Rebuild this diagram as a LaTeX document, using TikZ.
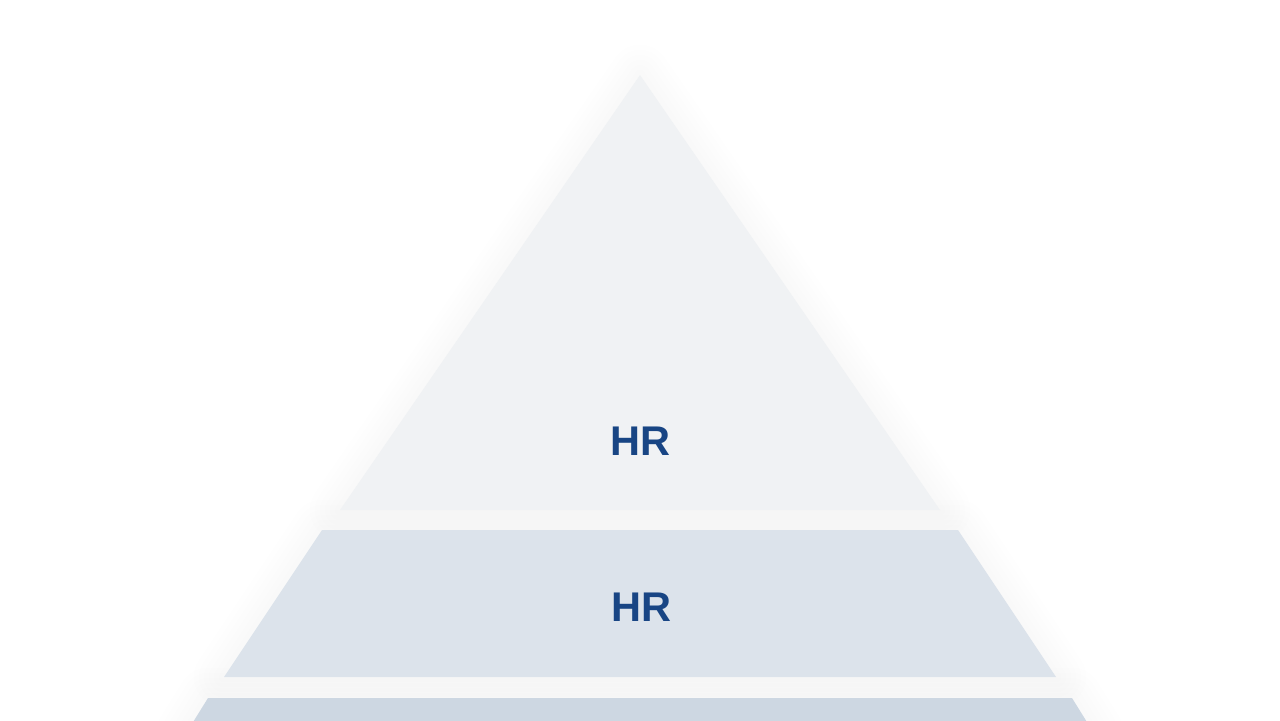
\documentclass[tikz,border=0pt]{standalone}
\usepackage{fontspec}
\setmainfont{Liberation Sans}
\newcommand{\pxsize}{0.01cm}
\definecolor{tierA}{HTML}{F0F2F4}
\definecolor{tierB}{HTML}{DCE3EB}
\definecolor{tierC}{HTML}{CDD7E2}
\definecolor{tierText}{HTML}{184584}
\tikzset{
  halo/.style={draw=black!40, draw opacity=0.008, line join=round,
               xshift=-3*\pxsize, yshift=-3*\pxsize},
  tierlabel/.style={text=tierText, font=\fontsize{11.8}{12}\selectfont\bfseries,
                    inner sep=0pt}
}

\begin{document}
\begin{tikzpicture}[x=\pxsize, y=-\pxsize]
\useasboundingbox[fill=white] (0,0) rectangle (1280,720);
% pyramid tiers, top to bottom
\path[save path=\tierC] (208,698) -- (1072,698) -- (1095,735) -- (185,735) -- cycle;
\path[save path=\tierB] (322,530) -- (958,530) -- (1056,677) -- (224,677) -- cycle;
\path[save path=\tierA] (640,75) -- (940,510) -- (340,510) -- cycle;
% soft shadows
\foreach \w in {10,20,...,60} {
  \draw[halo, line width=\w*\pxsize, use path=\tierC];
  \draw[halo, line width=\w*\pxsize, use path=\tierB];
  \draw[halo, line width=\w*\pxsize, use path=\tierA];
}
\fill[tierC, use path=\tierC];
\fill[tierB, use path=\tierB];
\fill[tierA, use path=\tierA];
% labels
\node[tierlabel] (top) at (640,441) {HR};
\node[tierlabel] (mid) at (641,607) {HR};
\end{tikzpicture}
\end{document}
